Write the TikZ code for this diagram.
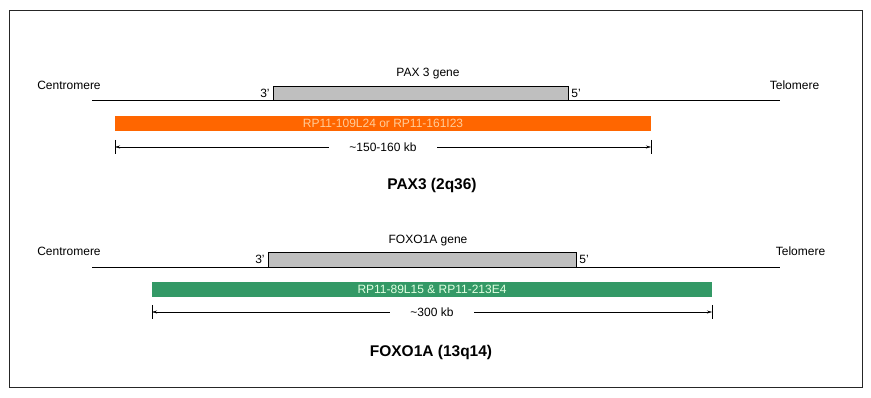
\documentclass[tikz,border=0pt]{standalone}
\usepackage{fontspec}
\setmainfont{Liberation Sans}
\usetikzlibrary{arrows.meta,positioning}
\definecolor{bacorange}{RGB}{255,102,0}
\definecolor{bacgreen}{RGB}{51,153,102}
\definecolor{peach}{RGB}{255,204,153}
\definecolor{mint}{RGB}{225,255,225}

\begin{document}
\begin{tikzpicture}[x=1pt,y=-1pt,
  lbl/.style={font=\fontsize{12}{14}\selectfont,inner sep=1pt},
  gene/.style={draw,fill=black!25,minimum height=14.5pt,inner sep=0pt},
  bac/.style={minimum height=15pt,inner sep=0pt,font=\fontsize{12}{14}\selectfont},
  locus/.style={font=\fontsize{15.5}{18}\selectfont\bfseries},
  dim/.style={{Stealth[length=5pt,width=3pt]}-{Stealth[length=5pt,width=3pt]}},
  gap/.style={lbl,fill=white,inner xsep=20pt}]
\useasboundingbox (0,0) rectangle (871,398);
\draw[black!85] (9,10) rectangle (862,387);
% PAX3
\coordinate (cenA) at (92,100.5);
\coordinate (telA) at (780,100.5);
\draw (cenA) -- (telA);
\node[lbl] (cenAtxt) at (69,85) {Centromere};
\node[lbl] (telAtxt) at (794.5,85) {Telomere};
\node[gene,minimum width=295pt] (geneA) at (420.5,93.25) {};
\node[lbl] (geneAtxt) at (428,74) {PAX 3 gene};
\node[lbl,left=2pt of geneA] (threeA) {3'};
\node[lbl,right=2pt of geneA] (fiveA) {5'};
\node[bac,fill=bacorange,text=peach,minimum width=536pt] (bacA) at (383,123.5) {RP11-109L24 or RP11-161I23};
\coordinate (dimAl) at (115,147);
\coordinate (dimAr) at (651,147);
\draw[dim] (dimAl) -- node[gap] (kbA) {\textasciitilde150-160 kb} (dimAr);
\foreach \c in {dimAl,dimAr} \draw (\c) +(0,-7) -- +(0,7);
\node[locus] (locA) at (432,185) {PAX3 (2q36)};
% FOXO1A
\coordinate (cenB) at (92,267);
\coordinate (telB) at (780,267);
\draw (cenB) -- (telB);
\node[lbl] (cenBtxt) at (69,251) {Centromere};
\node[lbl] (telBtxt) at (800.5,251) {Telomere};
\node[gene,minimum width=308pt,minimum height=15pt] (geneB) at (422,259.5) {};
\node[lbl] (geneBtxt) at (428,241) {FOXO1A gene};
\node[lbl,left=2pt of geneB] (threeB) {3'};
\node[lbl,right=2pt of geneB] (fiveB) {5'};
\node[bac,fill=bacgreen,text=mint,minimum width=560pt] (bacB) at (432,289.5) {RP11-89L15 \& RP11-213E4};
\coordinate (dimBl) at (152,312);
\coordinate (dimBr) at (712,312);
\draw[dim] (dimBl) -- node[gap] (kbB) {\textasciitilde300 kb} (dimBr);
\foreach \c in {dimBl,dimBr} \draw (\c) +(0,-7) -- +(0,7);
\node[locus] (locB) at (431,352) {FOXO1A (13q14)};
\end{tikzpicture}
\end{document}
